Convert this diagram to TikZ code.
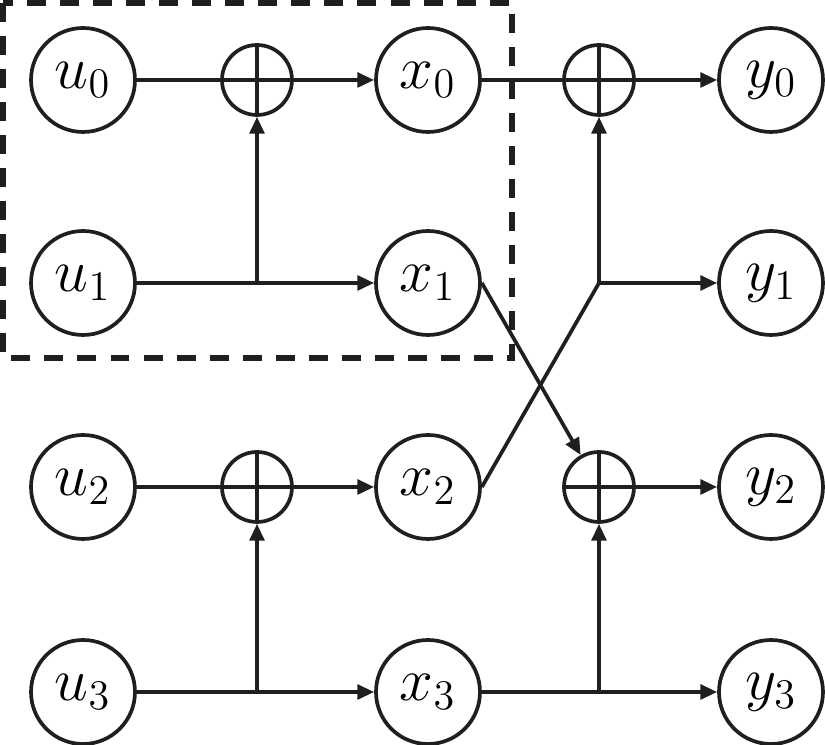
\documentclass[tikz,border=0pt]{standalone}
\usepackage{tikz}
\usetikzlibrary{arrows.meta,positioning,calc}

\begin{document}
\begin{tikzpicture}[>={Triangle[length=4.8pt,width=4.2pt]},line width=1.05pt,
 draw=black!88,font=\fontsize{16.5}{19}\selectfont,
 var/.style={draw,circle,minimum size=1.04cm,inner sep=0pt},
 xr/.style={draw,circle,minimum size=0.7cm,inner sep=0pt,
   path picture={\draw (path picture bounding box.north)--(path picture bounding box.south)
     (path picture bounding box.west)--(path picture bounding box.east);}},
 grp/.style={dashed,line width=1.5pt,dash pattern=on 5.4pt off 4pt}]
\useasboundingbox (0,0) rectangle (8.25,7.45);
\node[var] (u0) at (0.83,6.65) {$u_0$}; \node[var] (u1) at (0.83,4.62) {$u_1$};
\node[var] (u2) at (0.83,2.58) {$u_2$}; \node[var] (u3) at (0.83,0.53) {$u_3$};
\node[xr] (a0) at (2.57,6.65) {}; \node[xr] (a2) at (2.57,2.58) {};
\node[var] (x0) at (4.28,6.65) {$x_0$}; \node[var] (x1) at (4.28,4.62) {$x_1$};
\node[var] (x2) at (4.28,2.58) {$x_2$}; \node[var] (x3) at (4.28,0.53) {$x_3$};
\node[xr] (b0) at (5.99,6.65) {}; \node[xr] (b2) at (5.99,2.58) {};
\node[var] (y0) at (7.71,6.65) {$y_0$}; \node[var] (y1) at (7.71,4.62) {$y_1$};
\node[var] (y2) at (7.71,2.58) {$y_2$}; \node[var] (y3) at (7.71,0.53) {$y_3$};
\coordinate (j1) at (a0 |- u1); \coordinate (j3) at (a2 |- u3);
\coordinate (k1) at (b0 |- y1); \coordinate (k3) at (b2 |- y3);
% first stage
\draw (u0)--(a0); \draw[->] (a0)--(x0);
\draw[->] (u1)--(x1); \draw[->] (j1)--(a0);
\draw (u2)--(a2); \draw[->] (a2)--(x2);
\draw[->] (u3)--(x3); \draw[->] (j3)--(a2);
% second stage
\draw (x0)--(b0); \draw[->] (b0)--(y0);
\draw (x2.east)--(k1); \draw[->] (k1)--(y1); \draw[->] (k1)--(b0);
\draw[->] (x1.east)--(b2); \draw[->] (b2)--(y2);
\draw[->] (x3)--(y3); \draw[->] (k3)--(b2);
\draw[grp] (0.03,7.42) rectangle (5.12,3.87);
\end{tikzpicture}
\end{document}
